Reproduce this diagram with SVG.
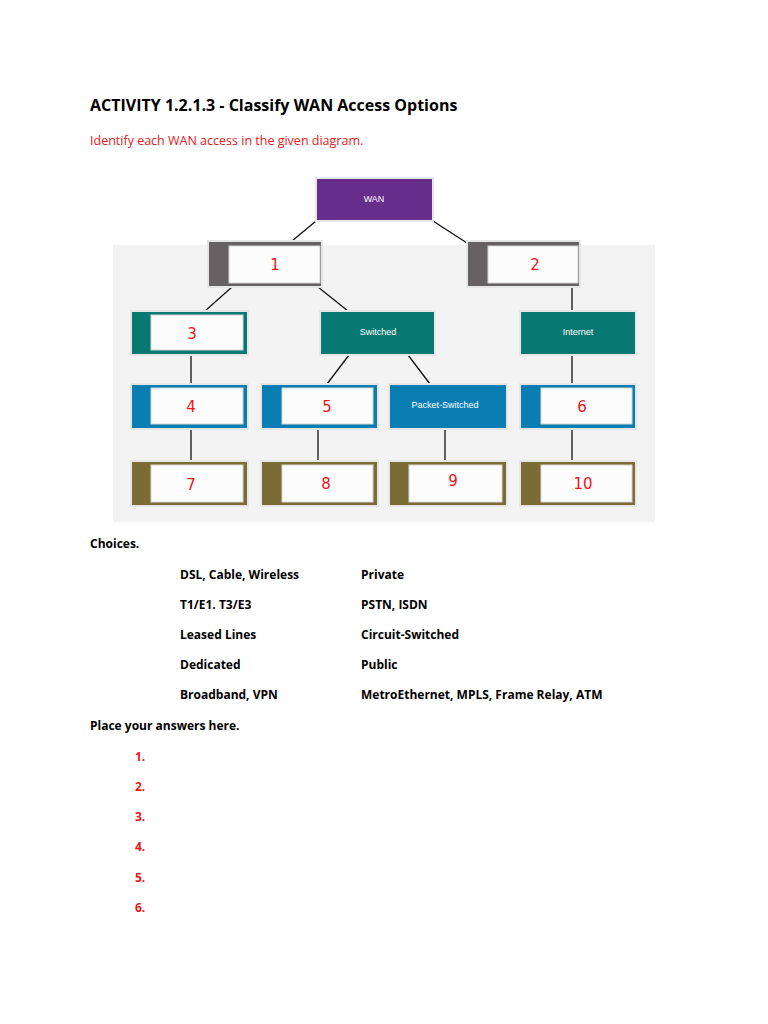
<svg xmlns="http://www.w3.org/2000/svg" width="768" height="1024" viewBox="0 0 768 1024">
<style>
.t{font-family:"Open Sans","DejaVu Sans",sans-serif}
.b{font-family:"Open Sans","DejaVu Sans",sans-serif;font-weight:bold;font-size:12px;fill:#000}
.r{fill:#e8161b}
.inner{fill:#fcfcfc;stroke:#d6d6d6;stroke-width:1}
.num{font-family:"DejaVu Sans",sans-serif;font-size:15px;fill:#f0141b;text-anchor:middle}
.lbl{font-family:"Liberation Sans",sans-serif;font-size:9px;fill:#fff;text-anchor:middle}
.ln{stroke:#111;stroke-width:1.3;fill:none}
.gray{fill:#666163}.teal{fill:#087873}.blue{fill:#0a7db3}.olive{fill:#7b6c36}
.sh{stroke:#e6e6e6;stroke-width:2}
</style>
<rect width="768" height="1024" fill="#fff"/>
<text class="t" x="90" y="111" font-size="16" font-weight="bold">ACTIVITY 1.2.1.3 - Classify WAN Access Options</text>
<text class="t r" x="90" y="145" font-size="12.5">Identify each WAN access in the given diagram.</text>
<rect x="113" y="245" width="542" height="277" fill="#f3f3f3"/>
<g id="connectors">
<path class="ln" d="M316 221L292 241M433 221L467 243M232 287L205 311M318 287L348 311M572 287V311M191 355V384M349 355L327 384M408 355L430 384M572 355V384M191 429V461M318 429V461M445 429V461M572 429V461"/>
</g>
<g id="wan"><rect x="316" y="178" width="117" height="43" fill="#662d8b" class="sh"/><text class="lbl" x="374" y="202">WAN</text></g>
<g id="n1"><rect class="gray sh" x="208" y="241" width="114" height="46"/><rect class="inner" x="229" y="246" width="91" height="37"/><text class="num" x="275" y="270">1</text></g>
<g id="n2"><rect class="gray sh" x="467" y="241" width="113" height="46"/><rect class="inner" x="488" y="246" width="90" height="37"/><text class="num" x="535" y="270">2</text></g>
<g id="n3"><rect class="teal sh" x="131" y="311" width="117" height="44"/><rect class="inner" x="151" y="315" width="92" height="35"/><text class="num" x="192" y="339">3</text></g>
<g id="switched"><rect class="teal sh" x="320" y="311" width="115" height="44"/><text class="lbl" x="378" y="335">Switched</text></g>
<g id="internet"><rect class="teal sh" x="520" y="311" width="116" height="44"/><text class="lbl" x="578" y="335">Internet</text></g>
<g id="n4"><rect class="blue sh" x="131" y="384" width="117" height="45"/><rect class="inner" x="151" y="388" width="92" height="36"/><text class="num" x="191" y="412">4</text></g>
<g id="n5"><rect class="blue sh" x="261" y="384" width="117" height="45"/><rect class="inner" x="282" y="388" width="91" height="36"/><text class="num" x="327" y="412">5</text></g>
<g id="packet"><rect class="blue sh" x="389" y="384" width="118" height="45"/><text class="lbl" x="445" y="408">Packet-Switched</text></g>
<g id="n6"><rect class="blue sh" x="520" y="384" width="116" height="45"/><rect class="inner" x="541" y="388" width="91" height="36"/><text class="num" x="582" y="412">6</text></g>
<g id="n7"><rect class="olive sh" x="131" y="461" width="117" height="45"/><rect class="inner" x="151" y="465" width="92" height="37"/><text class="num" x="191" y="490">7</text></g>
<g id="n8"><rect class="olive sh" x="261" y="461" width="117" height="45"/><rect class="inner" x="282" y="465" width="91" height="37"/><text class="num" x="326" y="489">8</text></g>
<g id="n9"><rect class="olive sh" x="389" y="461" width="118" height="45"/><rect class="inner" x="409" y="465" width="93" height="37"/><text class="num" x="453" y="486">9</text></g>
<g id="n10"><rect class="olive sh" x="520" y="461" width="116" height="45"/><rect class="inner" x="541" y="465" width="91" height="37"/><text class="num" x="583" y="489">10</text></g>
<text class="b" x="90" y="548">Choices.</text>
<text class="b" x="180" y="579">DSL, Cable, Wireless</text><text class="b" x="361" y="579">Private</text>
<text class="b" x="180" y="609">T1/E1. T3/E3</text><text class="b" x="361" y="609">PSTN, ISDN</text>
<text class="b" x="180" y="639">Leased Lines</text><text class="b" x="361" y="639">Circuit-Switched</text>
<text class="b" x="180" y="669">Dedicated</text><text class="b" x="361" y="669">Public</text>
<text class="b" x="180" y="699">Broadband, VPN</text><text class="b" x="361" y="699">MetroEthernet, MPLS, Frame Relay, ATM</text>
<text class="b" x="90" y="730">Place your answers here.</text>
<g class="b" style="fill:#e8161b">
<text x="135" y="761">1.</text><text x="135" y="791">2.</text><text x="135" y="821">3.</text><text x="135" y="851">4.</text><text x="135" y="882">5.</text><text x="135" y="912">6.</text>
</g>
</svg>
